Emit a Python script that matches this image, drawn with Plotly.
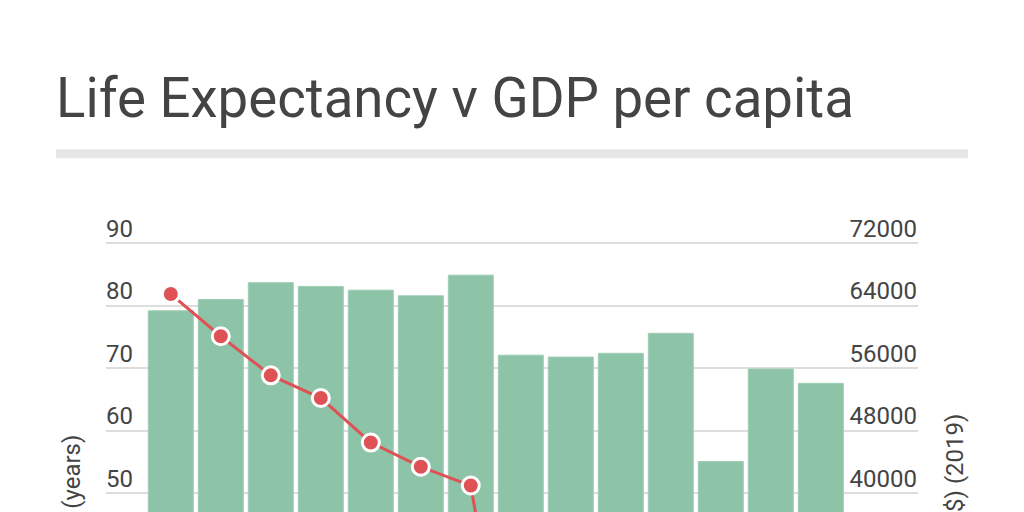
import plotly.graph_objects as go

countries = ["United States", "Denmark", "Australia", "Sweden", "Canada",
             "United Kingdom", "Japan", "Indonesia", "Philippines", "Egypt",
             "Vietnam", "Nigeria", "India", "Pakistan"]
life_expectancy = [79.2, 81.0, 83.7, 83.1, 82.5, 81.6, 84.9, 72.1, 71.8, 72.4,
                   75.6, 55.1, 69.9, 67.6]
gdp_per_capita = [65500, 60100, 55100, 52200, 46500, 43400, 41000, 4100, 3500,
                  3000, 2700, 2200, 2100, 1300]
left_ticks = [0, 10, 20, 30, 40, 50, 60, 70, 80, 90]
right_ticks = [0, 8000, 16000, 24000, 32000, 40000, 48000, 56000, 64000, 72000]
left_range = [0, 95]
right_range = [0, 76000]

W, H = 1024, 960
L, R = 106, 918          # plot area in px
B = 806                  # px of value 0
SCALE = (806 - 243) / 90  # px per year
T = B - left_range[1] * SCALE

def py(px):   # page px -> paper y
    return (B - px) / (B - T)

def pxx(px):  # page px -> paper x
    return (px - L) / (R - L)

font = "Roboto, 'Open Sans', sans-serif"
txt = "#444444"

fig = go.Figure()
fig.add_trace(go.Bar(
    x=countries, y=life_expectancy, name="Life expectancy",
    marker=dict(color="#8dc3a7", line=dict(color="#9fcdb4", width=1)),
    yaxis="y",
))
fig.add_trace(go.Scatter(
    x=countries, y=gdp_per_capita, name="GDP per capita",
    mode="lines+markers", yaxis="y2",
    line=dict(color="#de5256", width=3),
    marker=dict(size=17, color="#de5256", line=dict(color="white", width=3)),
))

fig.update_layout(
    width=W, height=H,
    margin=dict(l=L, r=W - R, t=T, b=H - B, pad=0),
    paper_bgcolor="white", plot_bgcolor="white",
    showlegend=False, bargap=0.1,
    font=dict(family=font, color=txt, size=24),
    title=dict(text="Life Expectancy v GDP per capita",
               font=dict(family=font, size=54.6, color="#444444"),
               xref="container", x=56 / W, xanchor="left",
               yref="container", y=1 - 98 / H, yanchor="middle"),
    xaxis=dict(range=[-1.296, 14.944], showgrid=False, showline=False,
               ticks="", tickfont=dict(size=16, color=txt), tickangle=-90),
    yaxis=dict(range=left_range, tickvals=left_ticks,
               ticktext=[str(v) for v in left_ticks],
               showgrid=True, gridcolor="#dddddd", gridwidth=2, zeroline=False,
               showline=False, ticks="", ticklabelposition="inside",
               ticklabelshift=-15, ticklabelstandoff=-3,
               tickfont=dict(size=24, color=txt)),
    yaxis2=dict(range=right_range, tickvals=right_ticks,
                ticktext=[str(v) for v in right_ticks],
                overlaying="y", side="right", showgrid=False, zeroline=False,
                showline=False, ticks="", ticklabelposition="inside",
                ticklabelshift=-15, ticklabelstandoff=-2,
                tickfont=dict(size=24, color=txt)),
    shapes=[dict(type="rect", xref="paper", yref="paper",
                 x0=pxx(56), x1=pxx(968), y0=py(158), y1=py(149),
                 fillcolor="#e6e6e6", line=dict(width=0), layer="below")],
    annotations=[
        dict(text="Life expectancy (years)", textangle=-90, showarrow=False,
             xref="paper", yref="paper", x=pxx(72), y=py(433),
             xanchor="center", yanchor="top",
             font=dict(size=24, color=txt, family=font)),
        dict(text="GDP per capita (US$) (2019)", textangle=-90, showarrow=False,
             xref="paper", yref="paper", x=pxx(955), y=py(411),
             xanchor="center", yanchor="top",
             font=dict(size=24, color=txt, family=font)),
    ],
)

fig.write_html("out.html")
